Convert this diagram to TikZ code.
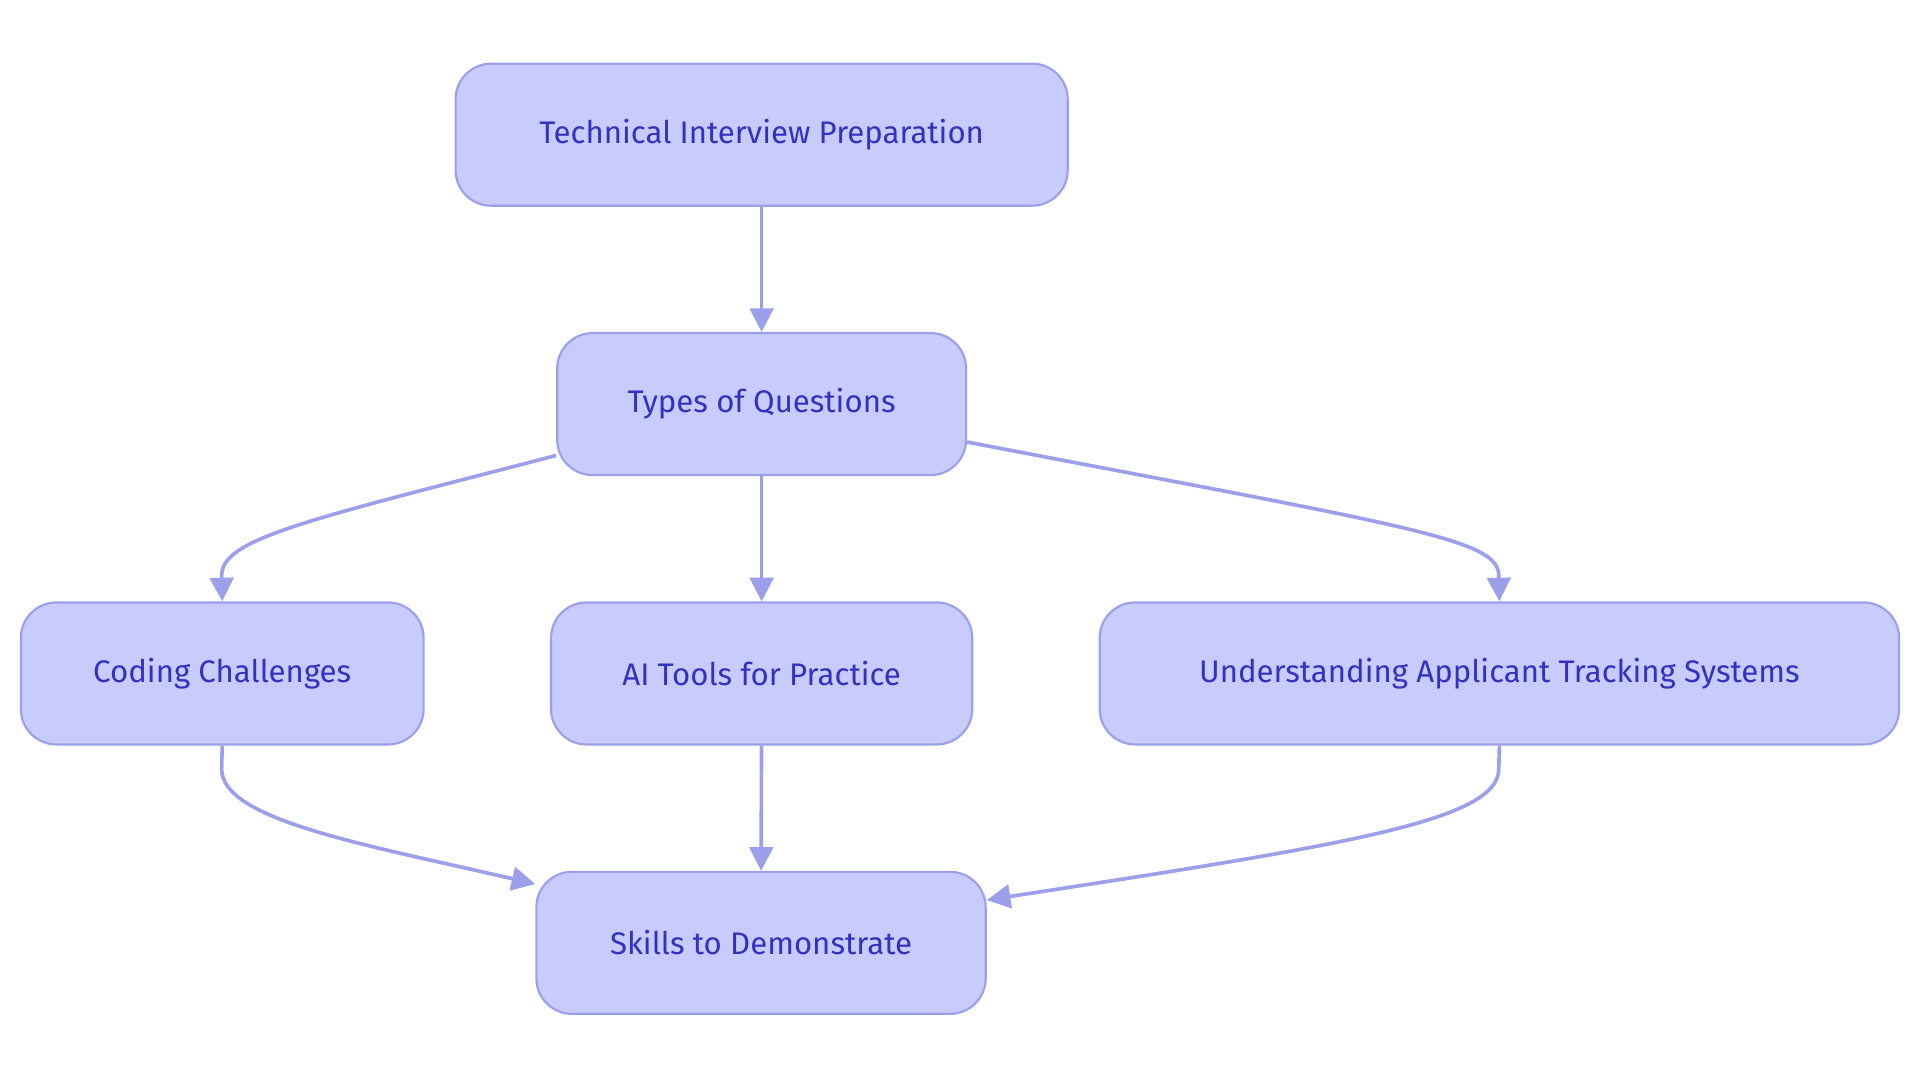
\documentclass[tikz,border=0pt]{standalone}
\usepackage{fontspec}
\setmainfont{Fira Sans}
\usetikzlibrary{arrows.meta,calc}
\definecolor{nfill}{HTML}{C8CBFE}
\definecolor{nline}{HTML}{9CA0EB}
\definecolor{ntext}{HTML}{3232BE}
\begin{document}
\begin{tikzpicture}[x=0.02cm,y=-0.02cm,
  box/.style={draw=nline,fill=nfill,line width=1pt,rounded corners=0.58cm,minimum height=2.32cm,text=ntext,font=\fontsize{14.5}{16}\selectfont,inner sep=0pt},
  conn/.style={draw=nline,line width=1.7pt,-{Triangle[length=11pt,width=11pt]}}]
\useasboundingbox (0,0) rectangle (1568,884);
\node[box,minimum width=10cm] (top) at (622,110) {Technical Interview Preparation};
\node[box,minimum width=6.68cm] (types) at (622,330) {Types of Questions};
\node[box,minimum width=6.58cm] (code) at (181.5,550) {Coding Challenges};
\node[box,minimum width=6.88cm] (ai) at (622,550) {AI Tools for Practice};
\node[box,minimum width=13.06cm] (ats) at (1224.5,550) {Understanding Applicant Tracking Systems};
\node[box,minimum width=7.34cm] (skills) at (621.5,770) {Skills to Demonstrate};
\draw[conn] (top) -- (types);
\draw[conn] (types) -- (ai);
\draw[conn] (ai) -- (skills);
\draw[conn] ($(types.west)+(0,42)$) .. controls (250,425) and (181,440) .. (181,470) -- (code.north);
\draw[conn] ($(types.east)+(0,31)$) .. controls (1150,430) and (1224,440) .. (1224,470) -- (ats.north);
\draw[conn] (code.south) -- (181,628) .. controls (181,670) and (300,690) .. ($(skills.west)+(0,-48)$);
\draw[conn] (ats.south) -- (1224,628) .. controls (1224,670) and (1100,690) .. ($(skills.east)+(0,-35)$);
\end{tikzpicture}
\end{document}
